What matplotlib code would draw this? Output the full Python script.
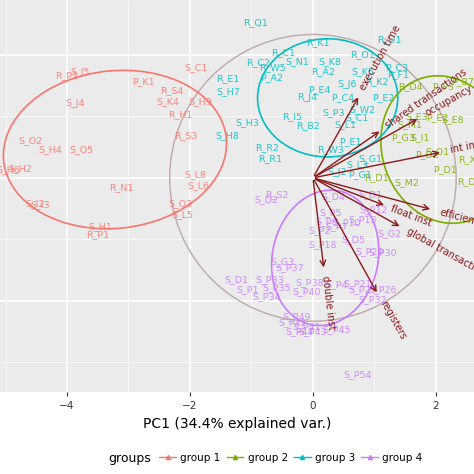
import matplotlib.pyplot as plt
import numpy as np
from matplotlib.patches import Ellipse, Circle
from matplotlib.lines import Line2D

GROUP_COLORS = ["#F8766D", "#7CAE00", "#00BFC4", "#C77CFF"]
GROUP_NAMES = ["group 1", "group 2", "group 3", "group 4"]

g1_labels = ["R_P2", "S_I5", "P_K1", "S_C1", "R_S4", "S_K4", "S_H9", "R_H1", "S_J4", "R_S3",
             "S_O2", "S_H4", "S_O5", "S_H6", "S_H2", "R_N1", "S_L8", "S_L6", "S_I3", "S_I2",
             "S_O3", "S_L5", "S_H1", "R_P1"]
g1_x = [-4.0, -3.79, -2.76, -1.90, -2.29, -2.36, -1.84, -2.16, -3.87, -2.07,
        -4.60, -4.28, -3.77, -4.96, -4.76, -3.11, -1.92, -1.87, -4.44, -4.52,
        -2.16, -2.13, -3.46, -3.50]
g1_y = [1.66, 1.72, 1.56, 1.79, 1.41, 1.24, 1.24, 1.02, 1.20, 0.68,
        0.60, 0.46, 0.46, 0.13, 0.15, -0.16, 0.05, -0.13, -0.44, -0.42,
        -0.42, -0.59, -0.80, -0.93]

g2_labels = ["R_D4", "P_F3", "P_B7", "S_E3", "S_M1", "P_E2", "S_E8", "P_G3", "S_I1", "P_D2",
             "S_O1", "R_X1", "P_D1", "R_D1", "S_M2", "R_D2"]
g2_x = [1.58, 2.11, 2.44, 1.69, 1.58, 2.02, 2.28, 1.46, 1.74, 1.85,
        2.02, 2.55, 2.15, 1.04, 1.53, 2.55]
g2_y = [1.48, 1.48, 1.56, 0.99, 0.86, 0.98, 0.94, 0.65, 0.65, 0.37,
        0.42, 0.29, 0.13, 0.0, -0.08, -0.06]

g3_labels = ["R_Q1", "R_K1", "R_U1", "R_C1", "R_C2", "S_N1", "S_K8", "R_O1", "R_W5", "P_A2",
             "R_A2", "S_K5", "P_C3", "P_F1", "R_E1", "S_H7", "P_E4", "S_J6", "R_K2", "R_J4",
             "P_C4", "P_E2", "S_W2", "S_P3", "S_C1", "S_H3", "R_I5", "R_B2", "S_L1", "S_H8",
             "P_E1", "R_R2", "R_R1", "R_W3", "S_G1", "S_L3", "S_J2", "P_G1"]
g3_x = [-0.94, 0.08, 1.25, -0.49, -0.89, -0.26, 0.28, 0.81, -0.65, -0.67,
        0.16, 0.81, 1.37, 1.38, -1.38, -1.38, 0.11, 0.55, 1.04, -0.10,
        0.49, 1.14, 0.81, 0.33, 0.72, -1.07, -0.33, -0.08, 0.52, -1.40,
        0.60, -0.75, -0.70, 0.28, 0.93, 0.72, 0.39, 0.76]
g3_y = [2.52, 2.19, 2.24, 2.03, 1.87, 1.89, 1.89, 2.00, 1.79, 1.63,
        1.72, 1.72, 1.79, 1.67, 1.61, 1.40, 1.43, 1.51, 1.56, 1.30,
        1.30, 1.30, 1.11, 1.06, 0.98, 0.89, 0.99, 0.85, 0.86, 0.68,
        0.59, 0.49, 0.31, 0.46, 0.31, 0.21, 0.08, 0.05]

g4_labels = ["S_D2", "R_S2", "S_D4", "S_D1", "S_P12", "S_P10", "S_P13", "S_P5", "S_P6", "S_P7",
             "S_P2", "S_G2", "S_D5", "S_P18", "S_P29", "S_P30", "S_G3", "S_P37", "S_D1", "S_P33",
             "S_P38", "S_P1", "S_P35", "S_P40", "S_P34", "S_P4", "S_P21", "S_P27", "S_P26", "S_P32",
             "S_P49", "S_P41", "S_P42", "S_P43", "S_P44", "S_P45", "S_P54"]
g4_x = [-0.75, -0.59, 0.33, 0.93, 0.98, 0.55, 0.81, 0.28, 0.22, 0.39,
        0.11, 1.25, 0.65, 0.16, 0.93, 1.14, -0.49, -0.37, -1.24, -0.70,
        -0.05, -1.07, -0.59, -0.10, -0.75, 0.39, 0.72, 0.81, 1.14, 0.98,
        -0.26, -0.10, -0.33, 0.0, -0.21, 0.39, 0.72]
g4_y = [-0.36, -0.28, -0.31, -0.28, -0.52, -0.73, -0.68, -0.57, -0.71, -0.79,
        -0.85, -0.90, -1.00, -1.09, -1.20, -1.22, -1.36, -1.46, -1.66, -1.66,
        -1.71, -1.82, -1.79, -1.85, -1.93, -1.74, -1.72, -1.82, -1.82, -1.98,
        -2.26, -2.42, -2.36, -2.50, -2.50, -2.47, -3.20]

# ellipses: center x, center y, semi-width, semi-height, angle
ell_cx = [-3.22, 2.15, 0.24, 0.20]
ell_cy = [0.46, 0.46, 1.30, -1.30]
ell_a = [1.82, 1.02, 1.14, 0.86]
ell_b = [1.28, 1.22, 0.96, 1.11]
ell_ang = [6, 20, 0, -12]

var_names = ["execution time", "shared transactions", "occupancy", "int inst", "float inst",
             "efficiency", "global transactions", "double inst", "registers"]
var_x = [0.76, 1.12, 1.74, 2.11, 1.20, 1.95, 1.45, 0.18, 1.06]
var_y = [1.35, 0.78, 0.98, 0.42, -0.46, -0.52, -0.81, -1.50, -1.90]

circle_r = 2.33

fig = plt.figure(figsize=(4.74, 4.74), dpi=100)
ax = fig.add_axes([0, 392 / 474 * 0 + 82 / 474, 1, 392 / 474])
ax.set_facecolor("#EBEBEB")
ax.set_xlim(-5.09, 2.62)
ax.set_ylim(-3.48, 2.89)
ax.set_aspect("auto")

for v in np.arange(-5, 3):
    ax.axvline(v, color="white", lw=1.1 if v % 2 == 0 else 0.5, zorder=0)
for v in np.arange(-3, 3):
    ax.axhline(v, color="white", lw=1.1 if v % 2 == 0 else 0.5, zorder=0)

ax.add_patch(Circle((0, 0), circle_r, fill=False, ec="#BFA8A8", lw=1.0, zorder=1))

groups = [(g1_labels, g1_x, g1_y), (g2_labels, g2_x, g2_y),
          (g3_labels, g3_x, g3_y), (g4_labels, g4_x, g4_y)]
for i, (labs, xs, ys) in enumerate(groups):
    c = GROUP_COLORS[i]
    for l, x, y in zip(labs, xs, ys):
        ax.text(x, y, l, color=c, fontsize=6.8, ha="center", va="center", alpha=0.85, zorder=2)
    ax.add_patch(Ellipse((ell_cx[i], ell_cy[i]), 2 * ell_a[i], 2 * ell_b[i], angle=ell_ang[i],
                         fill=False, ec=c, lw=1.2, zorder=3))

for name, x, y in zip(var_names, var_x, var_y):
    ax.annotate("", xy=(x, y), xytext=(0, 0),
                arrowprops=dict(arrowstyle="->", color="#8B1A1A", lw=1.0), zorder=4)
    ang = np.degrees(np.arctan2(y, x))
    ax.text(x * 1.06, y * 1.06, name, color="#8B1A1A", fontsize=7, rotation=ang,
            rotation_mode="anchor", ha="left", va="center", zorder=5)

ax.set_xticks([-4, -2, 0, 2])
ax.set_yticks([])
ax.tick_params(axis="x", colors="#333333", labelsize=7.5, length=3, color="#333333")
for s in ax.spines.values():
    s.set_visible(False)
ax.set_xlabel("PC1 (34.4% explained var.)", fontsize=10, color="black", labelpad=4)

handles = [Line2D([0], [0], color=c, marker="^", markersize=3, lw=1) for c in GROUP_COLORS]
leg = fig.legend(handles, GROUP_NAMES, loc="lower center", bbox_to_anchor=(0.56, 0.0),
                 ncol=4, frameon=False, fontsize=7.5, title="groups", handlelength=1.6,
                 columnspacing=0.6, handletextpad=0.4)
leg._legend_box.align = "left"
leg.get_title().set_fontsize(9)
# put title to the left of entries
from matplotlib.offsetbox import HPacker
box = leg._legend_box
box._children = [HPacker(children=list(box.get_children()), align="center", sep=6, pad=0)]

fig.savefig("out.png", dpi=100)
